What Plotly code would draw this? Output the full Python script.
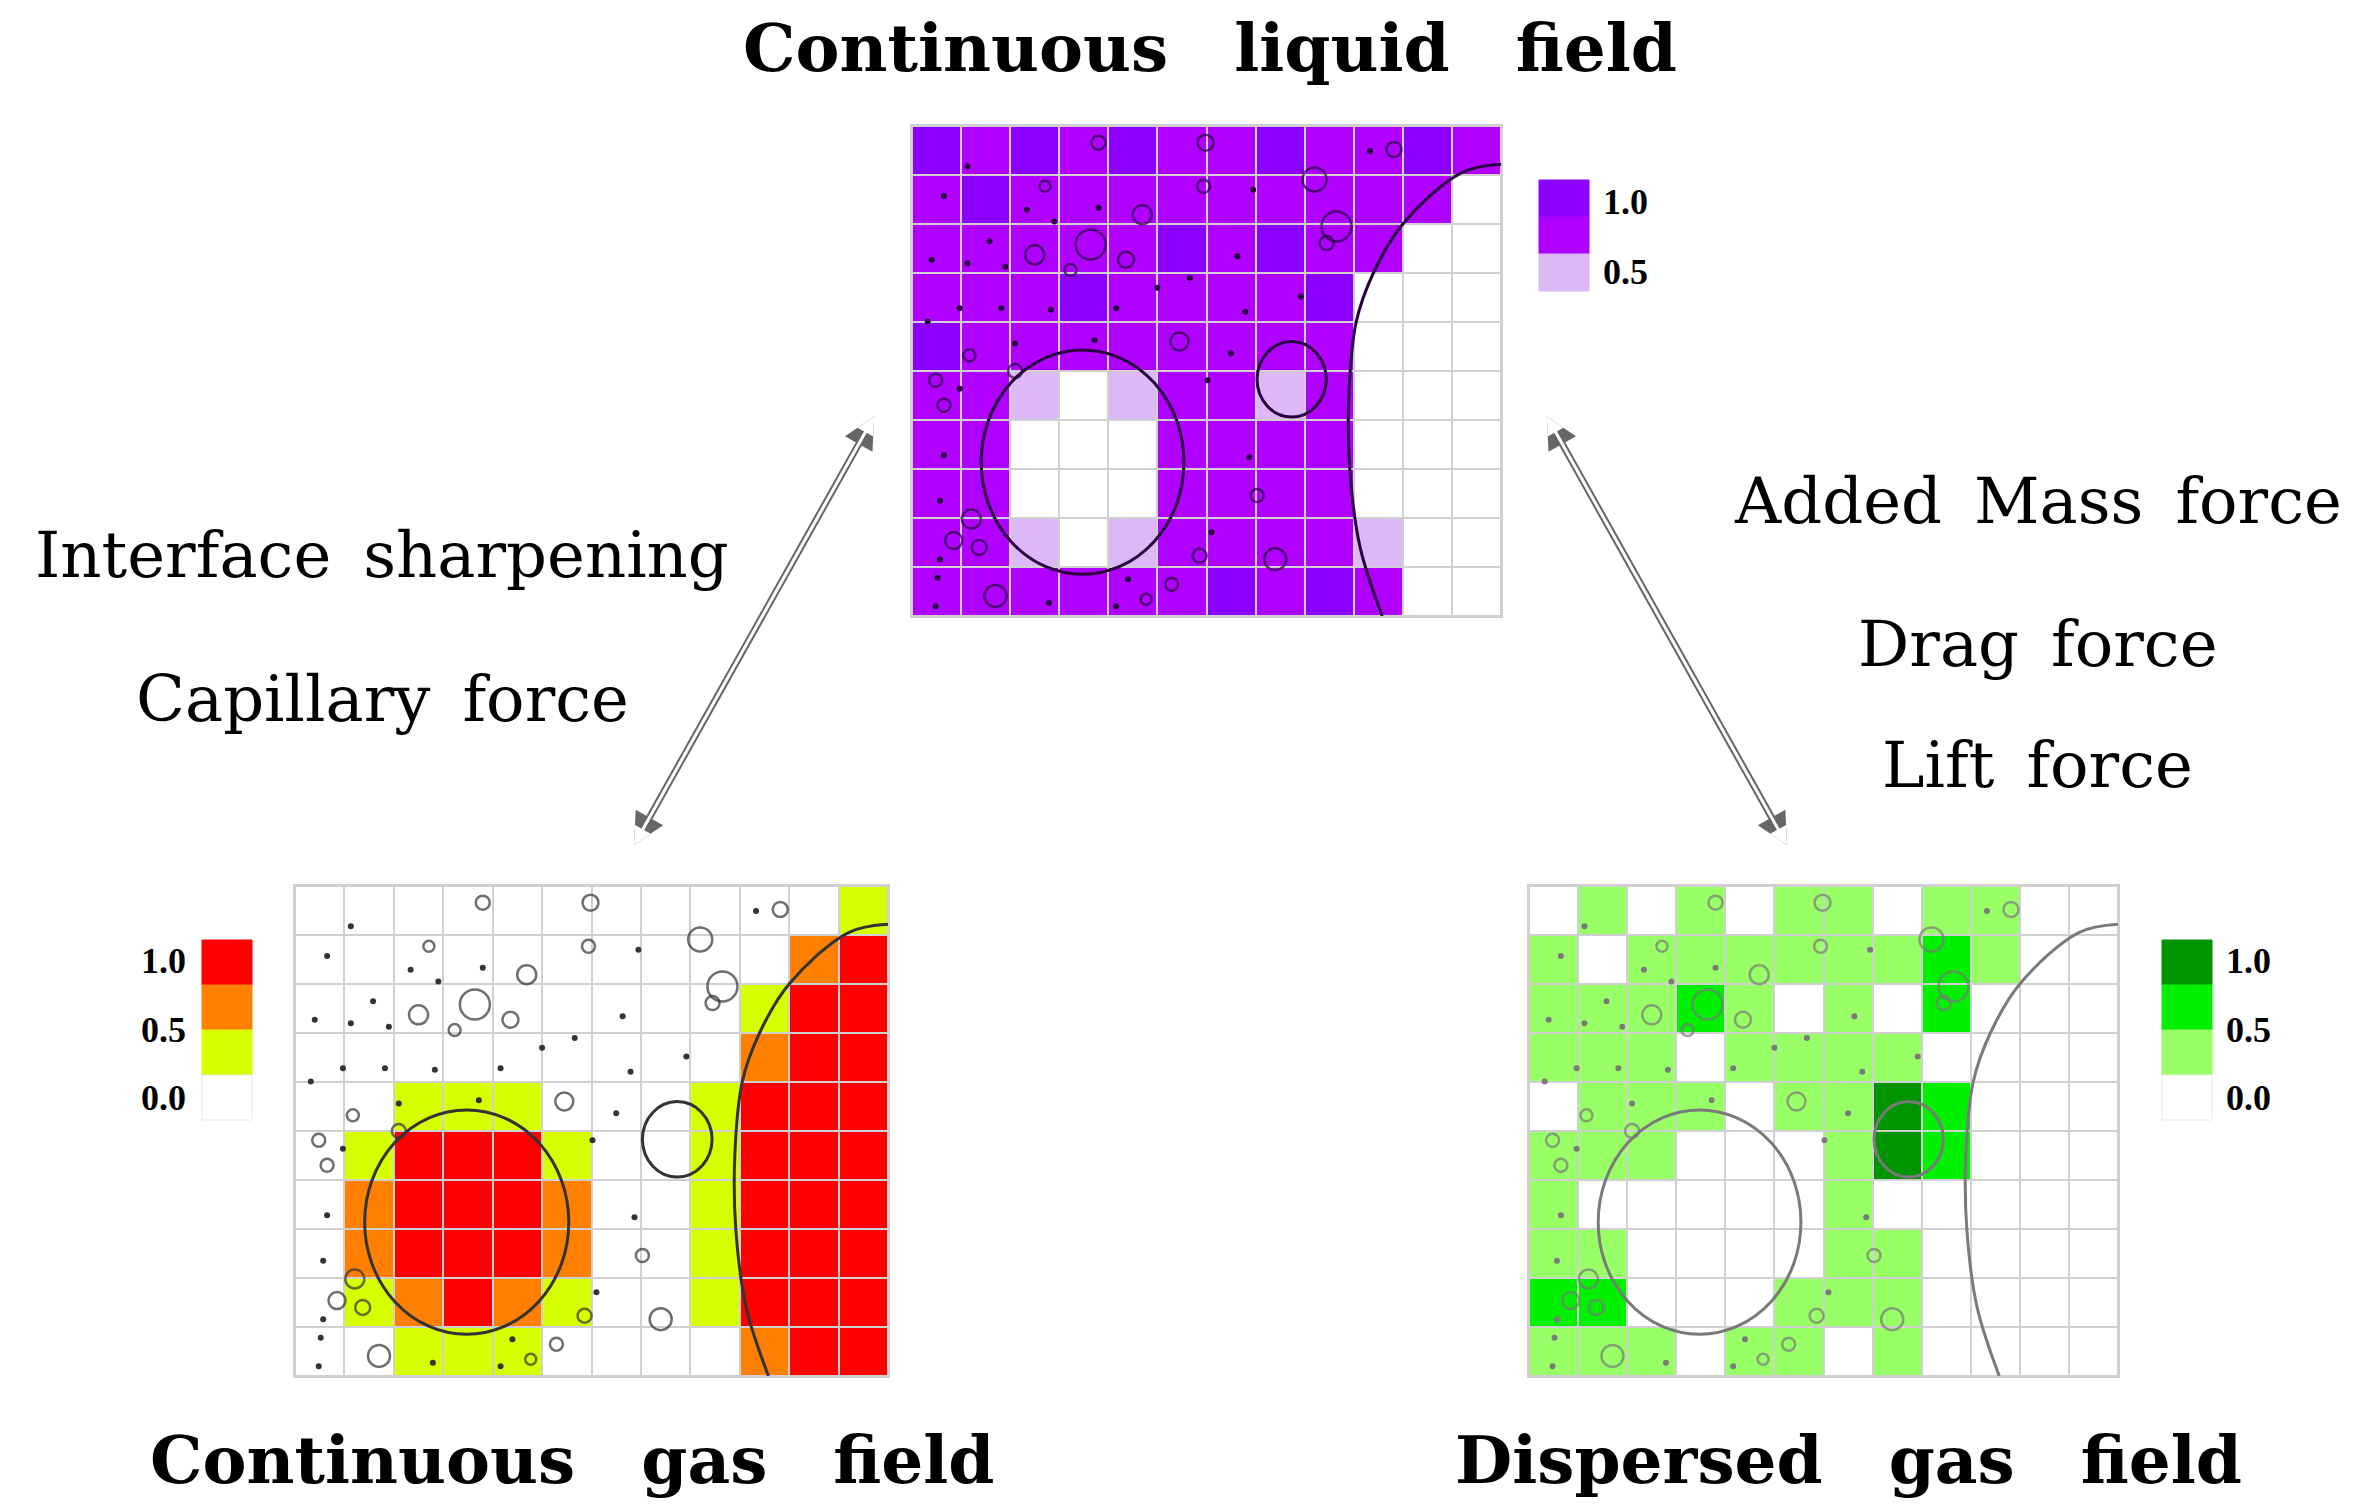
import plotly.graph_objects as go

# ---------------- data ----------------
liquid_levels = [
    [3,2,3,2,3,2,2,3,2,2,3,2],
    [2,3,2,2,2,2,2,2,2,2,2,0],
    [2,2,2,2,2,3,2,3,2,2,0,0],
    [2,2,2,3,2,2,2,2,3,0,0,0],
    [3,2,2,2,2,2,2,2,2,0,0,0],
    [2,2,1,0,1,2,2,1,2,0,0,0],
    [2,2,0,0,0,2,2,2,2,0,0,0],
    [2,2,0,0,0,2,2,2,2,0,0,0],
    [2,2,1,0,1,2,2,2,2,1,0,0],
    [2,2,2,2,2,2,3,2,3,2,0,0],
]
gas_levels = [
    [0,0,0,0,0,0,0,0,0,0,0,1],
    [0,0,0,0,0,0,0,0,0,0,2,3],
    [0,0,0,0,0,0,0,0,0,1,3,3],
    [0,0,0,0,0,0,0,0,0,2,3,3],
    [0,0,1,1,1,0,0,0,1,3,3,3],
    [0,1,3,3,3,1,0,0,1,3,3,3],
    [0,2,3,3,3,2,0,0,1,3,3,3],
    [0,2,3,3,3,2,0,0,1,3,3,3],
    [0,1,2,3,2,1,0,0,1,3,3,3],
    [0,0,1,1,1,0,0,0,0,2,3,3],
]
disp_levels = [
    [0,1,0,1,0,1,1,0,1,1,0,0],
    [1,0,1,1,1,1,1,1,2,1,0,0],
    [1,1,1,2,1,0,1,0,2,0,0,0],
    [1,1,1,0,1,1,1,1,0,0,0,0],
    [0,1,1,1,0,1,1,3,2,0,0,0],
    [1,1,1,0,0,0,1,3,2,0,0,0],
    [1,0,0,0,0,0,1,0,0,0,0,0],
    [1,1,0,0,0,0,1,1,0,0,0,0],
    [2,2,0,0,0,1,1,1,0,0,0,0],
    [1,1,1,0,1,1,0,1,0,0,0,0],
]
liquid_colors = ["#ffffff", "#dcb8f6", "#b000ff", "#8c00ff"]
gas_colors = ["#ffffff", "#d8ff00", "#ff8000", "#ff0000"]
disp_colors = ["#ffffff", "#99ff66", "#00f000", "#009400"]

bubble_x = [3.8,5.98,9.82,8.2,8.65,8.45,4.69,3.64,2.5,4.36,5.94,2.71,3.23,5.45,1.17,2.1,0.48,0.65,1.21,0.85,1.37,1.7,7.03,7.4,5.86,5.29,4.77]
bubble_y = [0.34,0.34,0.48,1.09,2.05,2.39,1.81,2.42,2.63,2.73,1.23,1.23,2.94,4.4,4.68,5.0,5.19,5.7,8.02,8.46,8.6,9.59,7.54,8.84,8.77,9.35,9.66]
bubble_s = [14,16,15,24,30,14,19,30,19,16,13,11,12,18,12,14,13,13,19,17,15,22,13,22,14,13,11]
dot_x = [1.13,0.65,2.34,3.8,2.9,0.4,1.13,1.9,1.58,5.66,5.0,6.63,6.95,9.33,0.97,1.82,2.83,4.16,6.79,7.92,0.32,2.1,3.72,6.5,6.02,0.97,0.65,6.87,0.57,6.1,0.57,0.52,4.4,0.48,2.79,4.16]
dot_y = [0.82,1.43,1.71,1.67,1.95,2.73,2.8,2.87,2.35,3.1,3.3,2.66,1.3,0.51,3.72,3.72,3.75,3.72,3.79,3.48,3.99,4.44,4.37,4.64,5.19,5.36,6.72,6.76,7.65,8.29,8.84,9.22,9.25,9.8,9.73,9.8]
interface_x = [12.0, 11.2, 10.0, 9.4, 9.05, 8.9, 8.92, 9.13, 9.58]
interface_y = [0.78, 0.95, 2.0, 3.0, 4.0, 5.5, 7.0, 8.6, 10.0]
big_bubble = (1.41, 4.57, 5.54, 9.15)
small_bubble = (7.03, 4.40, 8.44, 5.94)

# ---------------- layout helpers ----------------
W, H = 2365, 1505
def dom(x0, x1, y0, y1):
    return [x0 / W, x1 / W], [1 - y1 / H, 1 - y0 / H]

panels = [
    (liquid_levels, liquid_colors, dom(904, 1493, 118, 608), "#2a0040"),
    (gas_levels, gas_colors, dom(287, 880, 878, 1368), "#333333"),
    (disp_levels, disp_colors, dom(1521, 2110, 878, 1368), "#7a7a7a"),
]

fig = go.Figure()
layout = dict(width=W, height=H, margin=dict(l=0, r=0, t=0, b=0),
              paper_bgcolor="white", plot_bgcolor="#d0d0d0", showlegend=False)
shapes = []
for i, (lev, cols, (xd, yd), lc) in enumerate(panels):
    n = i + 1
    xa = "x" if n == 1 else f"x{n}"
    ya = "y" if n == 1 else f"y{n}"
    cs = []
    for k, c in enumerate(cols):
        cs += [[k / 4, c], [(k + 1) / 4, c]]
    fig.add_trace(go.Heatmap(z=lev, x0=0.5, dx=1, y0=0.5, dy=1, zmin=-0.5, zmax=3.5,
                             colorscale=cs, showscale=False, xgap=2, ygap=2,
                             hoverinfo="skip", xaxis=xa, yaxis=ya))
    fig.add_trace(go.Scatter(x=bubble_x, y=bubble_y, mode="markers", xaxis=xa, yaxis=ya,
                             marker=dict(size=bubble_s, color="rgba(0,0,0,0)",
                                         line=dict(color=lc, width=2.5)), hoverinfo="skip"))
    fig.add_trace(go.Scatter(x=dot_x, y=dot_y, mode="markers", xaxis=xa, yaxis=ya,
                             marker=dict(size=6, color=lc), hoverinfo="skip"))
    fig.add_trace(go.Scatter(x=interface_x, y=interface_y, mode="lines", xaxis=xa, yaxis=ya,
                             line=dict(color=lc, width=3, shape="spline"), hoverinfo="skip"))
    for (a, b, c, d) in (big_bubble, small_bubble):
        shapes.append(dict(type="circle", xref=xa, yref=ya, x0=a, y0=b, x1=c, y1=d,
                           line=dict(color=lc, width=3)))
    ax_common = dict(showgrid=False, zeroline=False, showticklabels=False, ticks="",
                     showline=True, linecolor="#d0d0d0", linewidth=2, mirror=True)
    layout["xaxis" if n == 1 else f"xaxis{n}"] = dict(domain=xd, range=[0, 12], anchor=ya, **ax_common)
    layout["yaxis" if n == 1 else f"yaxis{n}"] = dict(domain=yd, range=[10, 0], anchor=xa, **ax_common)

# colour-key boxes
def key(x0, y0, colors, h):
    for k, c in enumerate(colors):
        shapes.append(dict(type="rect", xref="paper", yref="paper",
                           x0=x0 / W, x1=(x0 + 50) / W,
                           y0=1 - (y0 + (k + 1) * h) / H, y1=1 - (y0 + k * h) / H,
                           fillcolor=c, line=dict(width=1, color="#e8e8e8" if c == "#ffffff" else c)))
key(1531, 172, liquid_colors[:0:-1], 37)
key(194, 932, gas_colors[::-1], 45)
key(2154, 932, disp_colors[::-1], 45)

ann = []
def txt(x, y, s, size, bold=False, anchor="center", fam="DejaVu Serif"):
    ann.append(dict(x=x / W, y=1 - y / H, xref="paper", yref="paper", showarrow=False,
                    text=f"<b>{s}</b>" if bold else s, xanchor=anchor, yanchor="middle",
                    font=dict(family=fam, size=size, color="black")))
SP = "\u2002"
txt(1202, 40, f"Continuous{SP}{SP}liquid{SP}{SP}field", 66, True)
txt(564, 1452, f"Continuous{SP}{SP}gas{SP}{SP}field", 66, True)
txt(1840, 1452, f"Dispersed{SP}{SP}gas{SP}{SP}field", 66, True)
txt(374, 547, f"Interface{SP}sharpening", 64)
txt(374, 691, f"Capillary{SP}force", 64)
txt(2030, 493, f"Added{SP}Mass{SP}force", 64)
txt(2030, 636, f"Drag{SP}force", 64)
txt(2030, 757, f"Lift{SP}force", 64)
for y, s in [(194, "1.0"), (264, "0.5")]:
    txt(1593, y, s, 36, True, "left", "Liberation Serif")
for y, s in [(953, "1.0"), (1022, "0.5"), (1090, "0.0")]:
    txt(180, y, s, 36, True, "right", "Liberation Serif")
    txt(2216, y, s, 36, True, "left", "Liberation Serif")

for hx, hy, tx, ty in [(626, 837, 867, 407), (1779, 837, 1538, 407)]:
    for w, col in [(7, "#666666"), (3, "#ffffff")]:
        ann.append(dict(x=hx / W, y=1 - hy / H, xref="paper", yref="paper", ax=tx - hx, ay=ty - hy,
                        showarrow=True, arrowhead=2, startarrowhead=2, arrowside="end+start",
                        arrowsize=0.9 if w == 7 else 1.2, arrowwidth=w, arrowcolor=col, text=""))

layout["shapes"] = shapes
layout["annotations"] = ann
fig.update_layout(**layout)
fig.write_html("out.html")
